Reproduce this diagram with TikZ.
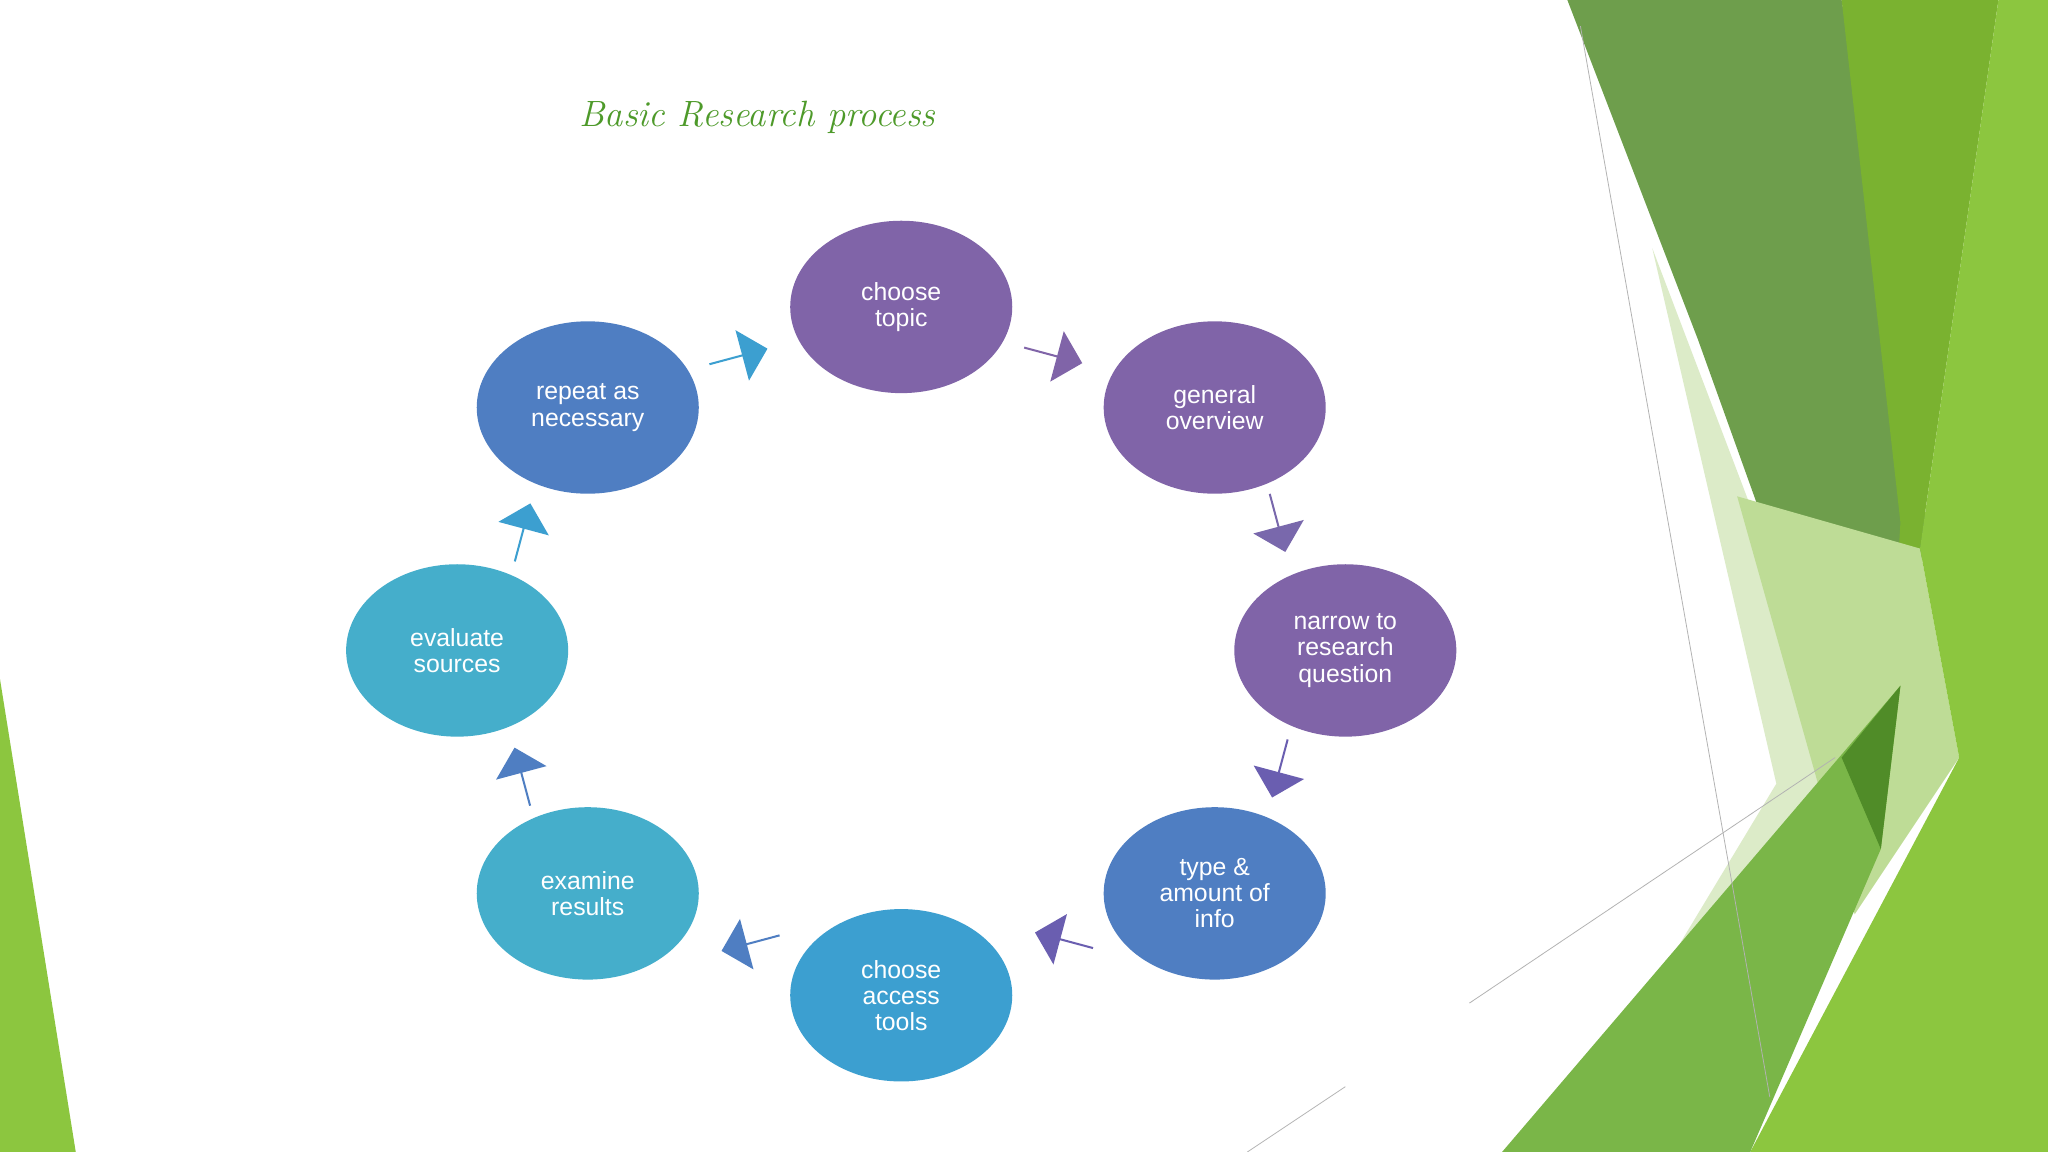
\documentclass[tikz,border=0pt]{standalone}
\usepackage{fontspec}
\setsansfont{Liberation Sans}
\usetikzlibrary{shapes.arrows,shapes.geometric}
\definecolor{purp}{HTML}{8064A8}
\definecolor{blu}{HTML}{4F7EC2}
\definecolor{tealc}{HTML}{45AECB}
\definecolor{teal2}{HTML}{3C9FD0}
\definecolor{arp}{HTML}{6A5EB0}
\definecolor{titlegreen}{HTML}{4E9A2A}
\definecolor{g1}{RGB}{110,158,76}
\definecolor{g2}{RGB}{122,178,48}
\definecolor{g3}{RGB}{220,235,200}
\definecolor{g4}{RGB}{190,220,150}
\definecolor{g5}{RGB}{140,198,63}
\definecolor{g6}{RGB}{122,182,72}
\definecolor{g7}{RGB}{80,140,40}
\tikzset{
 stage/.style={ellipse,draw=none,minimum width=170pt,minimum height=132pt,text=white,font=\sffamily\fontsize{19}{20}\selectfont,align=center},
 blk/.style={single arrow,draw=none,minimum height=46pt,minimum width=40pt,single arrow head extend=5pt,inner sep=0pt},
 thinline/.style={gray!60,line width=0.6pt}
}
\begin{document}
\begin{tikzpicture}[x=1pt,y=-1pt]
\useasboundingbox (0,0) rectangle (1568,882);
\fill[white] (0,0) rectangle (1568,882);
\fill[g1] (1200,0)--(1410,0)--(1475,400)--(1440,650)--(1300,260)--cycle;
\fill[g2] (1410,0)--(1530,0)--(1470,420)--(1440,650)--(1455,400)--cycle;
\fill[g3] (1265,190)--(1440,650)--(1190,882)--(1360,600)--cycle;
\fill[g4] (1330,380)--(1470,420)--(1500,580)--(1420,700)--cycle;
\fill[g5] (1530,0)--(1568,0)--(1568,882)--(1340,882)--(1500,580)--(1470,420)--cycle;
\fill[g6] (1150,882)--(1455,525)--(1440,650)--(1340,882)--cycle;
\fill[g7] (1410,580)--(1455,525)--(1440,650)--cycle;
\fill[g5] (0,520)--(58,882)--(0,882)--cycle;
\draw[thinline] (1210,20)--(1355,840);
\draw[thinline] (1125,768)--(1405,580);
\draw[thinline] (955,882)--(1030,832);
\node[text=titlegreen,font=\itshape\fontsize{28}{30}\selectfont] (title) at (580,90) {Basic Research process};
\node[stage,fill=purp] (s1) at (690,235) {choose\\topic};
\node[stage,fill=purp] (s2) at (930,312) {general\\overview};
\node[stage,fill=purp] (s3) at (1030,498) {narrow to\\research\\question};
\node[stage,fill=blu] (s4) at (930,684) {type \&\\amount of\\info};
\node[stage,fill=teal2] (s5) at (690,762) {choose\\access\\tools};
\node[stage,fill=tealc] (s6) at (450,684) {examine\\results};
\node[stage,fill=tealc] (s7) at (350,498) {evaluate\\sources};
\node[stage,fill=blu] (s8) at (450,312) {repeat as\\necessary};
\node[blk,fill=teal2,rotate=15] (a1) at (565,273) {};
\node[blk,fill=purp,rotate=-15] (a2) at (806,272) {};
\node[blk,fill=purp!85!blu,rotate=-75] (a3) at (978,400) {};
\node[blk,fill=arp,rotate=-105] (a4) at (980,588) {};
\node[blk,fill=arp,rotate=165] (a5) at (815,720) {};
\node[blk,fill=blu,rotate=195] (a6) at (575,722) {};
\node[blk,fill=blu,rotate=105] (a7) at (400,595) {};
\node[blk,fill=teal2,rotate=75] (a8) at (400,408) {};
\end{tikzpicture}
\end{document}
